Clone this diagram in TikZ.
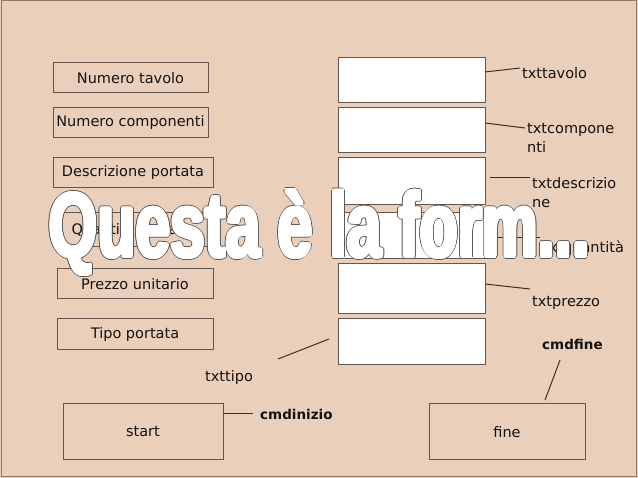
\documentclass[tikz,border=0pt]{standalone}
\usepackage{fontspec}
\usepackage{graphicx}
\newfontfamily\lblfont{DejaVu Sans}
\newfontfamily\wafont{Liberation Sans Bold}
\definecolor{bg}{RGB}{234,207,187}
\definecolor{frame}{RGB}{150,120,100}
\definecolor{boxline}{RGB}{100,86,76}
\definecolor{ink}{RGB}{20,18,16}
\definecolor{connline}{RGB}{60,50,45}
\definecolor{wagray}{RGB}{90,90,90}
\newcommand\waText{\scalebox{0.99}[1.45]{\wafont\fontsize{63}{63}\selectfont Questa è la form...}}
\tikzset{
  lbox/.style={draw=boxline, line width=1pt, fill=bg, inner sep=0pt, text=ink,
    font=\lblfont\fontsize{14.5}{17}\selectfont},
  fieldbox/.style={draw=boxline, line width=1pt, fill=white, inner sep=0pt},
  lbl/.style={inner sep=0pt, anchor=west, text=ink, align=left,
    font=\lblfont\fontsize{14.5}{19}\selectfont},
  blbl/.style={inner sep=0pt, anchor=west, text=ink,
    font=\lblfont\bfseries\fontsize{13.5}{16}\selectfont},
  conn/.style={draw=connline, line width=1pt},
  wa/.style={anchor=base west, inner sep=0pt}
}
\begin{document}
\begin{tikzpicture}[x=1pt,y=-1pt]
\useasboundingbox (0,0) rectangle (638,478);
\fill[bg] (0,0) rectangle (638,478);

% left label boxes
\node[lbox, minimum width=155, minimum height=30] (b1) at (130.5,78) {Numero tavolo};
\node[lbox, minimum width=155, minimum height=30] (b2) at (130.5,123) {Numero componenti};
\node[lbox, minimum width=160, minimum height=30] (b3) at (133,173) {Descrizione portata};
\node[lbox, minimum width=150, minimum height=34] (b4) at (132,230) {Quantità portata};
\node[lbox, minimum width=156, minimum height=30] (b5) at (135,284) {Prezzo unitario};
\node[lbox, minimum width=156, minimum height=31] (b6) at (135,334.5) {Tipo portata};
\node[lbox, minimum width=160, minimum height=56] (start) at (143,432) {start};
\node[lbox, minimum width=156, minimum height=56] (fine) at (507,432) {fine};

% right text fields
\node[fieldbox, minimum width=147, minimum height=45] (r1) at (411.5,80.5) {};
\node[fieldbox, minimum width=147, minimum height=45] (r2) at (411.5,130.5) {};
\node[fieldbox, minimum width=147, minimum height=47] (r3) at (411.5,181.5) {};
\node[fieldbox, minimum width=147, minimum height=46] (r4) at (411.5,236) {};
\node[fieldbox, minimum width=147, minimum height=50] (r5) at (411.5,289) {};
\node[fieldbox, minimum width=147, minimum height=46] (r6) at (411.5,342) {};

% labels
\node[lbl] (ltav) at (522,73) {txttavolo};
\node[lbl] (lcomp) at (527,137.5) {txtcompone\\nti};
\node[lbl] (ldesc) at (532,192.5) {txtdescrizio\\ne};
\node[lbl] (lquant) at (543,248) {txtquantità};
\node[lbl] (lprez) at (532,303) {txtprezzo};
\node[blbl] (lfine) at (542,344) {cmdfine};
\node[lbl] (ltipo) at (205,378) {txttipo};
\node[blbl] (linizio) at (260,414) {cmdinizio};

% connector end points
\coordinate (t1a) at (485,72);  \coordinate (t1b) at (520,68);
\coordinate (t2a) at (485,123); \coordinate (t2b) at (525,128);
\coordinate (t3a) at (490,178); \coordinate (t3b) at (530,178);
\coordinate (t4a) at (485,238); \coordinate (t4b) at (540,238);
\coordinate (t5a) at (485,284); \coordinate (t5b) at (530,289);
\coordinate (t6a) at (329,339); \coordinate (t6b) at (278,359);
\coordinate (tfa) at (560,360); \coordinate (tfb) at (545,400);
\coordinate (tsa) at (223,414); \coordinate (tsb) at (253,414);

\draw[conn] (t1a) -- (t1b);
\draw[conn] (t2a) -- (t2b);
\draw[conn] (t3a) -- (t3b);
\draw[conn] (t4a) -- (t4b);
\draw[conn] (t5a) -- (t5b);
\draw[conn] (t6a) -- (t6b);
\draw[conn] (tfa) -- (tfb);
\draw[conn] (tsa) -- (tsb);

% word art title: gray outline, emboldened white fill
\foreach \a [count=\i] in {0,22.5,...,337.5}{
  \node[wa, text=wagray, shift={(\a:2.6)}] (waout\i) at (49,257) {\waText};
}
\foreach \a [count=\i] in {0,22.5,...,337.5}{
  \node[wa, text=white, shift={(\a:1.6)}] (wain\i) at (49,257) {\waText};
}
\node[wa, text=white] (wordart) at (49,257) {\waText};

% frame
\draw[frame, line width=1pt] (1,1) rectangle (636.5,476.5);
\end{tikzpicture}
\end{document}
